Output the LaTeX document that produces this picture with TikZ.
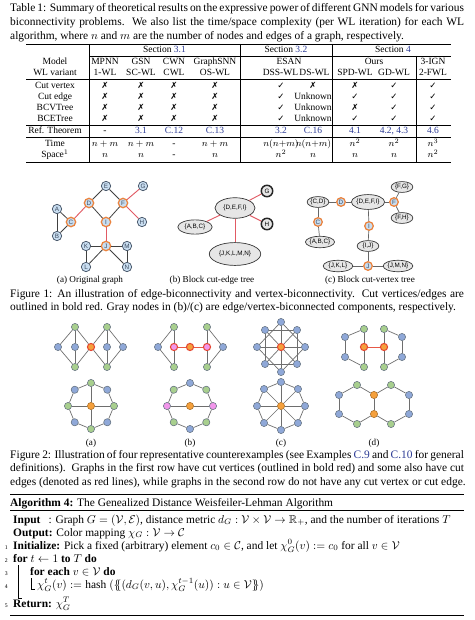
\documentclass[tikz,border=0pt]{standalone}
\usepackage{amsmath,amssymb}
\usepackage{fontspec}
\setmainfont{Liberation Serif}
\newfontfamily\arialf{Liberation Sans}
\newfontfamily\symf{DejaVu Sans}
\usetikzlibrary{shapes.geometric}
\definecolor{lnk}{RGB}{45,60,150}
\definecolor{nb}{RGB}{200,221,240}
\definecolor{nbd}{RGB}{60,75,95}
\definecolor{cutor}{RGB}{235,130,60}
\definecolor{redE}{RGB}{225,90,100}
\definecolor{grayF}{RGB}{230,230,230}
\definecolor{bl}{RGB}{143,168,216}
\definecolor{gr}{RGB}{168,207,142}
\definecolor{orf}{RGB}{245,160,60}
\definecolor{pk}{RGB}{242,150,235}
\definecolor{nout}{RGB}{105,118,132}
\definecolor{cutr}{RGB}{228,70,50}
\definecolor{edg}{RGB}{110,110,110}
\newcommand\cmk{{\symf\fontsize{7.5}{8}\selectfont\char"2713}}
\newcommand\xmk{{\symf\fontsize{7.5}{8}\selectfont\char"2717}}
\newcommand\lk[1]{\textcolor{lnk}{#1}}
\newcommand\jline[1]{\makebox[397pt][s]{#1}}
\begin{document}
\begin{tikzpicture}[x=0.875pt,y=-0.875pt,
  txt/.style={anchor=base west,inner sep=0,text height=7pt,text depth=2pt,font=\fontsize{10}{12}\selectfont},
  tb/.style={anchor=base,inner sep=0,text height=6pt,text depth=1.8pt,font=\fontsize{8.3}{10}\selectfont},
  sub/.style={anchor=base,inner sep=0,font=\fontsize{8}{10}\selectfont},
  num/.style={anchor=base east,inner sep=0,text height=4pt,text depth=0pt,font=\fontsize{5}{6}\selectfont},
  thick rule/.style={line width=0.8pt},
  thin rule/.style={line width=0.4pt},
  fa/.style={circle,draw=nbd,fill=nb,line width=0.6pt,minimum size=8.2pt,inner sep=0,font=\arialf\fontsize{5.5}{6}\selectfont,text=nbd},
  fac/.style={fa,draw=cutor,line width=1.1pt},
  dk/.style={draw=black!75,line width=0.7pt},
  rd/.style={draw=redE,line width=0.8pt},
  el/.style={ellipse,draw=black!80,fill=grayF,line width=0.6pt,inner sep=0,font=\arialf\fontsize{5.5}{6}\selectfont},
  bn/.style={circle,draw=black!85,fill=grayF,line width=1.3pt,minimum size=10pt,inner sep=0,font=\arialf\fontsize{5.5}{6}\selectfont},
  ce/.style={draw=black!60,line width=0.6pt},
  f2/.style={circle,draw=nout,line width=0.5pt,minimum size=6.3pt,inner sep=0},
  f2o/.style={f2,fill=orf,draw=orf!70!black},
  f2c/.style={f2,line width=0.9pt,draw=cutr},
  e2/.style={draw=edg,line width=0.6pt},
  r2/.style={draw=cutr!90,line width=0.8pt}]
\fill[white] (0,0) rectangle (474,620);
\useasboundingbox (0,0) rectangle (474,620);

% ---------- Table caption ----------
\node[txt] (tc1) at (10,12) {\jline{Table 1: Summary of theoretical results on the expressive power of different GNN models for various}};
\node[txt] (tc2) at (10,25.7) {\jline{biconnectivity problems.\ \ We also list the time/space complexity (per WL iteration) for each WL}};
\node[txt] (tc3) at (10,39.4) {algorithm, where $n$ and $m$ are the number of nodes and edges of a graph, respectively.};

% ---------- Table rules ----------
\draw[thick rule] (26,44) -- (451,44);
\draw[thin rule] (89,56) -- (451,56);
\draw[thin rule] (26,79) -- (451,79);
\draw[thin rule] (26,125) -- (451,125);
\draw[thin rule] (26,137.5) -- (451,137.5);
\draw[thick rule] (26,162) -- (451,162);
\draw[thin rule] (89,44) -- (89,162);
\draw[thin rule] (240,44) -- (240,162);
\draw[thin rule] (332,44) -- (332,162);
\draw[thin rule] (416,56) -- (416,162);

% ---------- Table text ----------
\node[tb] (s31) at (164.5,53) {Section \lk{3.1}};
\node[tb] (s32) at (286,53) {Section \lk{3.2}};
\node[tb] (s4) at (393,53) {Section \lk{4}};
\foreach \x/\t [count=\i] in {55/Model,105/MPNN,141/GSN,174/CWN,215/GraphSNN,289/ESAN,374/Ours,433/3-IGN}
  \node[tb] (hm\i) at (\x,65) {\t};
\foreach \x/\t [count=\i] in {55/WL variant,105/1-WL,141/SC-WL,174/CWL,215/OS-WL,280.5/DSS-WL,314.5/DS-WL,355/SPD-WL,394/GD-WL,433/2-FWL}
  \node[tb] (hw\i) at (\x,76) {\t};
\foreach \y/\t [count=\i] in {89/Cut vertex,100/Cut edge,111/BCVTree,122/BCETree,134/Ref. Theorem,147/Time,158/{Space$^1$}}
  \node[tb] (rl\i) at (55,\y) {\t};
\foreach \x/\t [count=\i] in {105/\xmk,141/\xmk,174/\xmk,215/\xmk,281/\cmk,313/\xmk,355/\xmk,394/\cmk,433/\cmk}
  \node[tb] (cv\i) at (\x,89) {\t};
\foreach \x/\t [count=\i] in {105/\xmk,141/\xmk,174/\xmk,215/\xmk,281/\cmk,313/Unknown,355/\cmk,394/\cmk,433/\cmk}
  \node[tb] (ce\i) at (\x,100) {\t};
\foreach \x/\t [count=\i] in {105/\xmk,141/\xmk,174/\xmk,215/\xmk,281/\cmk,313/Unknown,355/\xmk,394/\cmk,433/\cmk}
  \node[tb] (bv\i) at (\x,111) {\t};
\foreach \x/\t [count=\i] in {105/\xmk,141/\xmk,174/\xmk,215/\xmk,281/\cmk,313/Unknown,355/\cmk,394/\cmk,433/\cmk}
  \node[tb] (be\i) at (\x,122) {\t};
\foreach \x/\t [count=\i] in {105/-,141/\lk{3.1},174/\lk{C.12},215/\lk{C.13},281/\lk{3.2},313/\lk{C.16},355/\lk{4.1},394/{\lk{4.2, 4.3}},433/\lk{4.6}}
  \node[tb] (rt\i) at (\x,134) {\t};
\foreach \x/\t [count=\i] in {105/$n+m$,141/$n+m$,174/-,215/$n+m$,281/$n(n{+}m)$,313.5/$n(n{+}m)$,355/$n^2$,394/$n^2$,433/$n^3$}
  \node[tb] (tm\i) at (\x,147) {\t};
\foreach \x/\t [count=\i] in {105/$n$,141/$n$,174/-,215/$n$,281/$n^2$,313/$n$,355/$n$,394/$n$,433/$n^2$}
  \node[tb] (sp\i) at (\x,158) {\t};

% ---------- Figure 1 (a) ----------
\node[fa] (E) at (106,186) {E};
\node[fa] (G) at (143,186) {G};
\node[fac] (D) at (89,203) {D};
\node[fac] (F) at (123,203) {F};
\node[fa] (A) at (57,209) {A};
\node[fac] (C) at (71,222) {C};
\node[fac] (I) at (106,222) {I};
\node[fa] (H) at (142,222) {H};
\node[fa] (B) at (57,236) {B};
\node[fa] (K) at (86,246) {K};
\node[fac] (J) at (106,246) {J};
\node[fa] (M) at (127,246) {M};
\node[fa] (L) at (86,267) {L};
\node[fa] (N) at (127,267) {N};
\draw[dk] (A) -- (B); \draw[dk] (A) -- (C); \draw[dk] (B) -- (C);
\draw[rd] (C) -- (D);
\draw[dk] (D) -- (E); \draw[dk] (E) -- (F); \draw[dk] (D) -- (I); \draw[dk] (F) -- (I);
\draw[rd] (F) -- (G); \draw[rd] (F) -- (H); \draw[rd] (I) -- (J);
\draw[dk] (J) -- (K); \draw[dk] (K) -- (L); \draw[dk] (L) -- (J);
\draw[dk] (J) -- (M); \draw[dk] (M) -- (N); \draw[dk] (J) -- (N);

% ---------- Figure 1 (b) ----------
\node[el,minimum width=35pt,minimum height=18pt] (bDEFI) at (235,208) {\{D,E,F,I\}};
\node[el,minimum width=30pt,minimum height=12.5pt] (bABC) at (195,227) {\{A,B,C\}};
\node[el,minimum width=45pt,minimum height=20pt] (bJKLMN) at (235,254) {\{J,K,L,M,N\}};
\node[bn] (bG) at (267,191) {G};
\node[bn] (bH) at (267,224) {H};
\draw[rd] (bDEFI) -- (bABC);
\draw[rd] (bDEFI) -- (bG);
\draw[rd] (bDEFI) -- (bH);
\draw[rd] (bDEFI) -- (bJKLMN);

% ---------- Figure 1 (c) ----------
\begin{scope}[every node/.append style={font=\arialf\fontsize{5}{6}\selectfont}]
\node[el,minimum width=19pt,minimum height=9.5pt] (cFG) at (402,187) {\{F,G\}};
\node[el,minimum width=19pt,minimum height=9.5pt] (cCD) at (318,202) {\{C,D\}};
\node[fac,minimum size=7.5pt] (cD) at (341,202) {D};
\node[el,minimum width=29pt,minimum height=13pt] (cDEFI) at (368,202) {\{D,E,F,I\}};
\node[fac,minimum size=7.5pt] (cF) at (394,202) {F};
\node[el,minimum width=19pt,minimum height=9.5pt] (cFH) at (402,218) {\{F,H\}};
\node[fac,minimum size=7.5pt] (cC) at (318,222) {C};
\node[fac,minimum size=7.5pt] (cI) at (369,226) {I};
\node[el,minimum width=24pt,minimum height=10pt] (cABC) at (320,242) {\{A,B,C\}};
\node[el,minimum width=19pt,minimum height=9.5pt] (cIJ) at (368,246) {\{I,J\}};
\node[el,minimum width=26pt,minimum height=10pt] (cJKL) at (338,266) {\{J,K,L\}};
\node[fac,minimum size=7.5pt] (cJ) at (368,266) {J};
\node[el,minimum width=26pt,minimum height=10pt] (cJMN) at (398,266) {\{J,M,N\}};
\end{scope}
\draw[ce] (cCD) -- (cD); \draw[ce] (cD) -- (cDEFI); \draw[ce] (cDEFI) -- (cF);
\draw[ce] (cF) -- (cFG); \draw[ce] (cF) -- (cFH);
\draw[ce] (cCD) -- (cC); \draw[ce] (cC) -- (cABC);
\draw[ce] (cDEFI) -- (cI); \draw[ce] (cI) -- (cIJ); \draw[ce] (cIJ) -- (cJ);
\draw[ce] (cJ) -- (cJKL); \draw[ce] (cJ) -- (cJMN);

% ---------- Figure 1 captions ----------
\node[sub] (sa) at (90,282) {(a) Original graph};
\node[sub] (sb) at (212,282) {(b) Block cut-edge tree};
\node[sub] (sc) at (370,282) {(c) Block cut-vertex tree};
\node[txt] (f1a) at (10,297) {\jline{Figure 1: An illustration of edge-biconnectivity and vertex-biconnectivity.\ \ Cut vertices/edges are}};
\node[txt] (f1b) at (10,310.7) {outlined in bold red. Gray nodes in (b)/(c) are edge/vertex-biconnected components, respectively.};

% ---------- Figure 2 (a) top ----------
\node[f2,fill=gr] (at1) at (75,327) {};
\node[f2,fill=gr] (at2) at (107,327) {};
\node[f2,fill=bl] (ab1) at (58,347) {};
\node[f2,fill=bl] (ab2) at (75,347) {};
\node[f2c,fill=orf] (ao) at (91,347) {};
\node[f2,fill=bl] (ab3) at (107,347) {};
\node[f2,fill=bl] (ab4) at (123,347) {};
\node[f2,fill=gr] (ag1) at (75,367) {};
\node[f2,fill=gr] (ag2) at (107,367) {};
\foreach \u/\v in {at1/ab1,at1/ab2,at1/ao,ag1/ab1,ag1/ab2,ag1/ao,at2/ao,at2/ab3,at2/ab4,ag2/ao,ag2/ab3,ag2/ab4}
  \draw[e2] (\u) -- (\v);

% ---------- Figure 2 (b) top ----------
\node[f2,fill=gr] (bt1) at (174,327) {};
\node[f2,fill=gr] (bt2) at (207,327) {};
\node[f2,fill=bl] (bb1) at (158,347) {};
\node[f2c,fill=pk] (bp1) at (174,347) {};
\node[f2c,fill=orf] (bo) at (190,347) {};
\node[f2c,fill=pk] (bp2) at (207,347) {};
\node[f2,fill=bl] (bb2) at (223,347) {};
\node[f2,fill=gr] (bg1) at (174,367) {};
\node[f2,fill=gr] (bg2) at (207,367) {};
\foreach \u/\v in {bt1/bb1,bt1/bp1,bg1/bb1,bg1/bp1,bt2/bp2,bt2/bb2,bg2/bp2,bg2/bb2}
  \draw[e2] (\u) -- (\v);
\draw[r2] (bp1) -- (bo); \draw[r2] (bo) -- (bp2);

% ---------- Figure 2 (c) top ----------
\node[f2c,fill=orf] (cco) at (281,347) {};
\node[f2,fill=bl] (cc0) at (305,347) {};
\node[f2,fill=bl] (cc1) at (297,364) {};
\node[f2,fill=bl] (cc2) at (281,372) {};
\node[f2,fill=bl] (cc3) at (265,364) {};
\node[f2,fill=bl] (cc4) at (257,347) {};
\node[f2,fill=bl] (cc5) at (265,330) {};
\node[f2,fill=bl] (cc6) at (281,322) {};
\node[f2,fill=bl] (cc7) at (297,330) {};
\foreach \i in {0,...,7} \draw[e2] (cco) -- (cc\i);
\foreach \u/\v in {cc5/cc7,cc7/cc1,cc1/cc3,cc3/cc5,cc6/cc0,cc0/cc2,cc2/cc4,cc4/cc6}
  \draw[e2] (\u) -- (\v);

% ---------- Figure 2 (d) top ----------
\node[f2,fill=bl] (dbl1) at (345,337) {};
\node[f2,fill=gr] (dgl1) at (364,329) {};
\node[f2,fill=gr] (dgr1) at (384,329) {};
\node[f2,fill=bl] (dbr1) at (402,337) {};
\node[f2c,fill=orf] (dol) at (364,347) {};
\node[f2c,fill=orf] (dor) at (384,347) {};
\node[f2,fill=bl] (dbl2) at (345,357) {};
\node[f2,fill=gr] (dgl2) at (364,367) {};
\node[f2,fill=gr] (dgr2) at (384,367) {};
\node[f2,fill=bl] (dbr2) at (402,357) {};
\foreach \u/\v in {dgl1/dbl1,dbl1/dbl2,dbl2/dgl2,dgl2/dol,dol/dgl1,dgr1/dor,dor/dgr2,dgr2/dbr2,dbr2/dbr1,dbr1/dgr1}
  \draw[e2] (\u) -- (\v);
\draw[r2] (dol) -- (dor);

% ---------- Figure 2 bottom rings (a),(b),(c) ----------
\node[f2o] (pa) at (91,406) {};
\foreach \c [count=\i from 0] in {gr,bl,gr,bl,gr,bl,gr,bl}
  \node[f2,fill=\c] (pa\i) at ({91+23*cos(\i*45)},{406+23*sin(\i*45)}) {};
\node[f2o] (pb) at (190,406) {};
\foreach \c [count=\i from 0] in {pk,gr,bl,gr,pk,gr,bl,gr}
  \node[f2,fill=\c] (pb\i) at ({190+23*cos(\i*45)},{406+23*sin(\i*45)}) {};
\node[f2o] (pc) at (281,406) {};
\foreach \c [count=\i from 0] in {bl,bl,bl,bl,bl,bl,bl,bl}
  \node[f2,fill=\c] (pc\i) at ({281+24*cos(\i*45)},{406+24*sin(\i*45)}) {};
\foreach \i in {0,...,7}{
  \pgfmathtruncatemacro\j{mod(\i+1,8)}
  \draw[e2] (pa\i) -- (pa\j);
  \draw[e2] (pb\i) -- (pb\j);
  \draw[e2] (pc\i) -- (pc\j);
  \draw[e2] (pc) -- (pc\i);
}
\foreach \i in {0,2,4,6} \draw[e2] (pa) -- (pa\i);
\draw[e2] (pb) -- (pb0); \draw[e2] (pb) -- (pb4);

% ---------- Figure 2 (d) bottom ----------
\node[f2,fill=bl] (qb1) at (339,395) {};
\node[f2,fill=bl] (qb2) at (339,414) {};
\node[f2,fill=gr] (qg1) at (357,385) {};
\node[f2,fill=gr] (qg2) at (357,424) {};
\node[f2o] (qo1) at (374,395) {};
\node[f2o] (qo2) at (374,414) {};
\node[f2,fill=gr] (qg3) at (391,385) {};
\node[f2,fill=gr] (qg4) at (391,424) {};
\node[f2,fill=bl] (qb3) at (409,395) {};
\node[f2,fill=bl] (qb4) at (409,414) {};
\foreach \u/\v in {qb1/qg1,qg1/qo1,qo1/qo2,qo2/qg2,qg2/qb2,qb2/qb1,qo1/qg3,qg3/qb3,qb3/qb4,qb4/qg4,qg4/qo2}
  \draw[e2] (\u) -- (\v);

% ---------- Figure 2 labels and caption ----------
\node[sub] (la) at (91,445) {(a)};
\node[sub] (lb) at (190,445) {(b)};
\node[sub] (lc) at (281,445) {(c)};
\node[sub] (ld) at (374,445) {(d)};
\node[txt] (f2a) at (10,458) {\jline{Figure 2: Illustration of four representative counterexamples (see Examples \lk{C.9} and \lk{C.10} for general}};
\node[txt] (f2b) at (10,471.7) {\jline{definitions).\ \ Graphs in the first row have cut vertices (outlined in bold red) and some also have cut}};
\node[txt] (f2c) at (10,485.4) {edges (denoted as red lines), while graphs in the second row do not have any cut vertex or cut edge.};

% ---------- Algorithm ----------
\draw[thick rule] (10,494) -- (464,494);
\node[txt] (alt) at (10,506) {\textbf{Algorithm 4:} The Genealized Distance Weisfeiler-Lehman Algorithm};
\draw[thin rule] (10,510.5) -- (464,510.5);
\node[txt] (ain) at (13,523) {\textbf{Input}\hspace{7pt}: Graph $G=(\mathcal{V},\mathcal{E})$, distance metric $d_G:\mathcal{V}\times\mathcal{V}\rightarrow\mathbb{R}_+$, and the number of iterations $T$};
\node[txt] (aout) at (13,536) {\textbf{Output:} Color mapping $\chi_G:\mathcal{V}\rightarrow\mathcal{C}$};
\node[txt] (a1) at (13,549) {\textbf{Initialize:} Pick a fixed (arbitrary) element $c_0\in\mathcal{C}$, and let $\chi_G^0(v):=c_0$ for all $v\in\mathcal{V}$};
\node[txt] (a2) at (13,562) {\textbf{for} $t\leftarrow1$ \textbf{to} $T$ \textbf{do}};
\node[txt] (a3) at (30,575) {\textbf{for each} $v\in\mathcal{V}$ \textbf{do}};
\node[txt] (a4) at (37,588) {$\chi_G^t(v):=\mathrm{hash}\;(\{\!\!\{(d_G(v,u),\chi_G^{t-1}(u)):u\in\mathcal{V}\}\!\!\})$};
\node[txt] (a5) at (13,607) {\textbf{Return:} $\chi_G^T$};
\node[num] (n1) at (8,549) {1};
\node[num] (n2) at (8,562) {2};
\node[num] (n3) at (8,575) {3};
\node[num] (n4) at (8,588) {4};
\node[num] (n5) at (8,607) {5};
\draw[thin rule] (18,565) -- (18,598) -- (22,598);
\draw[thin rule] (31,578) -- (31,589) -- (35,589);
\draw[thick rule] (10,615) -- (464,615);
\end{tikzpicture}
\end{document}
